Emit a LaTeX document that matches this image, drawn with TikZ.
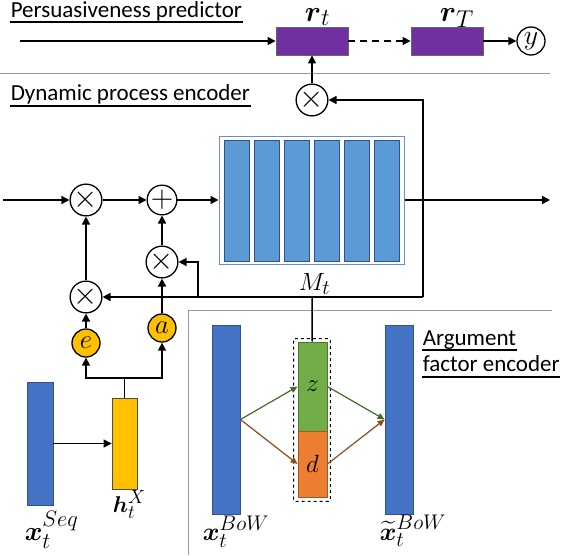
\documentclass[tikz,border=0pt]{standalone}
\usepackage{amsmath}
\usepackage{graphicx}
\usepackage{fontspec}
\setmainfont{Carlito}
\usepackage{tikz}
\usetikzlibrary{
    arrows.meta,  % arrow tips
    positioning,  % better custom positioning
    calc,  % coordinate arithmetic
}

\definecolor{vecblue}{HTML}{4472C4}
\definecolor{vecedge}{HTML}{2F528F}
\definecolor{cellblue}{HTML}{5B9BD5}
\definecolor{unitpurple}{HTML}{7030A0}
\definecolor{gold}{HTML}{FFC000}
\definecolor{zgreen}{HTML}{70AD47}
\definecolor{dorange}{HTML}{ED7D31}
\definecolor{arrgreen}{HTML}{3F6B2A}
\definecolor{arrbrown}{HTML}{8E4B1C}

\newcommand{\ttlsize}{\fontsize{23}{27}\selectfont}
% math fonts stop at 24.88pt, so bigger symbols are scaled
\newcommand{\sclm}[2][1.17]{\scalebox{#1}{$#2$}}

\tikzset{
    title/.style={anchor=base west, inner sep=0pt, font=\ttlsize},
    uline/.style={line width=1.1pt},
    sep/.style={line width=1pt, draw=black!40},
    lbl/.style={anchor=base west, inner sep=0pt, font=\Huge},
    op/.style={circle, draw, line width=1.3pt, fill=white, minimum size=28pt, inner sep=0pt, font=\Huge},
    gate/.style={op, fill=gold},
    unit/.style={draw=black!60, line width=0.8pt, fill=unitpurple, minimum width=72pt, minimum height=28pt, inner sep=0pt},
    vec/.style={draw=vecedge, line width=0.8pt, fill=vecblue, inner sep=0pt},
    cell/.style={draw=vecedge, line width=0.8pt, fill=cellblue, minimum width=25pt, minimum height=121pt, inner sep=0pt},
    mem/.style={draw=vecblue!80, line width=1pt, fill=white, minimum width=185pt, minimum height=128pt, inner sep=0pt},
    hid/.style={draw=black!70, line width=0.8pt, fill=gold, minimum width=25pt, minimum height=91pt, inner sep=0pt},
    fac/.style={line width=0.8pt, minimum width=29pt, inner sep=0pt, font=\Huge},
    garrow/.style={draw=arrgreen, line width=1.2pt, -{Triangle[length=7pt,width=6pt]}},
    barrow/.style={draw=arrbrown, line width=1.2pt, -{Triangle[length=7pt,width=6pt]}},
}

\begin{document}
\begin{tikzpicture}[x=1pt, y=-1pt, line width=1.5pt, >={Triangle[length=8pt,width=8pt]}]
            \useasboundingbox (0,0) rectangle (565,555);

            \node[title] (tp) at (10,17) {Persuasiveness predictor};
            \draw[uline] ($(tp.base west)+(0,5)$) -- ($(tp.base east)+(0,5)$);

            \node[unit] (r1) at (312,41) {};
            \node[unit] (r2) at (447,41) {};
            \node[op] (y) at (531,41) {\sclm[1.12]{y}};
            \node[lbl] (rl1) at (304,21) {\sclm{\boldsymbol{r}_t}};
            \node[lbl] (rl2) at (439,21) {\sclm{\boldsymbol{r}_T}};
            \coordinate (s0) at (20,41);
            \draw[->] (s0) -- (r1);
            \draw[->, dash pattern=on 7pt off 5pt] (r1) -- (r2);
            \draw[->] (r2) -- (y);

            \draw[sep] (0,73) -- (550,73);

            \node[title] (td) at (10,100) {Dynamic process encoder};
            \draw[uline] ($(td.base west)+(0,6)$) -- ($(td.base east)+(0,6)$);

            \node[op] (m0) at (312,100) {\sclm[1.25]{\times}};
            \draw[->] (m0) -- (r1);

            \node[mem] (M) at (311.5,200) {};
            \foreach \i in {0,...,5}
                \node[cell] (c\i) at (236.5+30*\i,200.5) {};
            \node[lbl] (Ml) at (298,290) {$M_t$};

            \node[op] (m1) at (86,200) {\sclm[1.25]{\times}};
            \node[op] (p1) at (162,200) {\sclm[1.25]{+}};
            \node[op] (m2) at (162,262) {\sclm[1.25]{\times}};
            \node[op] (m3) at (86,297) {\sclm[1.25]{\times}};
            \coordinate (s1) at (3,200);
            \coordinate (o1) at (550,200);
            \draw[->] (s1) -- (m1);
            \draw[->] (m1) -- (p1);
            \draw[->] (p1) -- (M);
            \draw[->] (M) -- (o1);
            \draw[->] (m3) -- (m1);
            \draw[->] (m2) -- (p1);

            \coordinate (f0) at (423,297);
            \coordinate (f1) at (198,297);
            \coordinate (fz) at (312,297);
            \draw[->] (f0) -- (m3);
            \draw[->] (f0) |- (m0);
            \draw[->] (f1) |- (m2);

            \node[gate] (e) at (86,343) {\sclm[1.08]{e}};
            \node[gate] (a) at (162,328) {\sclm[1.08]{a}};
            \draw[->] (e) -- (m3);
            \draw[->] (a) -- (m2);

            \node[hid] (h) at (124.5,443.5) {};
            \node[vec, minimum width=26pt, minimum height=123pt] (xs) at (40,443.5) {};
            \coordinate (hj) at (124.5,378);
            \draw (h) -- (hj);
            \draw[->] (hj) -| (e);
            \draw[->] (hj) -| (a);
            \draw[->] (xs) -- (h);
            \node[lbl] (hl) at (112,512) {\sclm[0.92]{\boldsymbol{h}_t^X}};
            \node[lbl] (xsl) at (24,540) {\sclm[1.08]{\boldsymbol{x}_t^{Seq}}};

            \draw[sep] (188,555) -- (188,310) -- (552,310);
            \node[title] (ta) at (422,345) {Argument};
            \draw[uline] ($(ta.base west)+(0,5)$) -- ($(ta.base east)+(0,5)$);
            \node[title] (tf) at (422,371) {factor encoder};
            \draw[uline] ($(tf.base west)+(0,6)$) -- ($(tf.base east)+(0,6)$);

            \node[vec, minimum width=28pt, minimum height=189pt] (xb) at (226,419.5) {};
            \node[vec, minimum width=28pt, minimum height=189pt] (xr) at (399,419.5) {};
            \node[fac, draw=zgreen!70!black, fill=zgreen, minimum height=89pt] (z) at (312.5,386.5) {$z$};
            \node[fac, draw=dorange!70!black, fill=dorange, minimum height=66pt] (d) at (312.5,464) {$d$};
            \draw[line width=1pt, dashed, rounded corners=2pt] ($(z.north west)+(-4,-3)$) rectangle ($(d.south east)+(3,4)$);
            \draw (z) -- (fz);
            \draw[garrow] (xb.east) -- (z.west);
            \draw[garrow] (z.east) -- (xr.west);
            \draw[barrow] (xb.east) -- (d.west);
            \draw[barrow] (d.east) -- (xr.west);
            \node[lbl] (xbl) at (202,540) {\sclm[1.02]{\boldsymbol{x}_t^{BoW}}};
            \node[lbl] (xrl) at (379,540) {\sclm[1.02]{\widetilde{\boldsymbol{x}}_t^{BoW}}};
        \end{tikzpicture}
\end{document}
